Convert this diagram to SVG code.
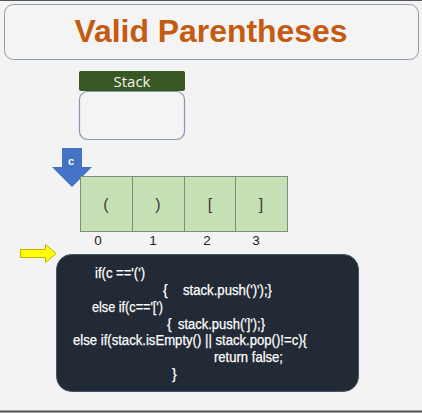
<svg xmlns="http://www.w3.org/2000/svg" width="422" height="413" viewBox="0 0 422 413">
<style>
.code{font-family:"Liberation Sans",Arial,sans-serif;font-size:14px;fill:#ffffff;stroke:#ffffff;stroke-width:0.25;}
.cell{fill:#c5e0b4;stroke:#7f8c7f;stroke-width:1;}
.ch{font-family:"Liberation Sans",Arial,sans-serif;font-size:16px;fill:#3a3a3a;text-anchor:middle;}
.idx{font-family:"Liberation Sans",Arial,sans-serif;font-size:13.5px;fill:#222;text-anchor:middle;}
</style>
<rect x="0" y="0" width="422" height="413" fill="#f3f3f3"/>
<line x1="0" y1="0.5" x2="422" y2="0.5" stroke="#555" stroke-width="1"/>
<line x1="0" y1="411.5" x2="422" y2="411.5" stroke="#555" stroke-width="2"/>
<g id="title">
<rect x="4.5" y="4.5" width="414" height="55" rx="9" fill="#f4f4f4" stroke="#8d9bb0" stroke-width="1"/>
<text x="211" y="42" text-anchor="middle" font-family="Liberation Sans,Arial,sans-serif" font-weight="bold" font-size="32" fill="#c55a11" textLength="273" lengthAdjust="spacingAndGlyphs">Valid Parentheses</text>
</g>
<g id="stack">
<rect x="79.5" y="91.5" width="105" height="48" rx="8" fill="#f4f4f4" stroke="#8497b0" stroke-width="1.2"/>
<rect x="79" y="71" width="106" height="20" rx="2" fill="#385723"/>
<text x="132" y="87" text-anchor="middle" font-family="Open Sans,Liberation Sans,sans-serif" font-size="15" fill="#f2f2f2">Stack</text>
</g>
<g id="pointer-c">
<polygon points="62,148 82,148 82,167 92,167 72,187 52,167 62,167" fill="#4472c4"/>
<text x="71" y="165" text-anchor="middle" font-family="Liberation Sans,Arial,sans-serif" font-weight="bold" font-size="11" fill="#ffffff">c</text>
</g>
<g id="array">
<rect class="cell" x="80.5" y="176.5" width="52" height="55"/>
<rect class="cell" x="132.5" y="176.5" width="52" height="55"/>
<rect class="cell" x="184.5" y="176.5" width="51" height="55"/>
<rect class="cell" x="235.5" y="176.5" width="52" height="55"/>
<text class="ch" x="106" y="210">(</text>
<text class="ch" x="158" y="210">)</text>
<text class="ch" x="210" y="210">[</text>
<text class="ch" x="261" y="210">]</text>
<text class="idx" x="98" y="245">0</text>
<text class="idx" x="153" y="245">1</text>
<text class="idx" x="207" y="245">2</text>
<text class="idx" x="256" y="245">3</text>
</g>
<g id="pointer-line">
<polygon points="20.5,249.5 45.5,249.5 45.5,244.5 56,253.5 45.5,262.5 45.5,257.5 20.5,257.5" fill="#ffff00" stroke="#c8b400" stroke-width="1"/>
</g>
<g id="code">
<rect x="56.5" y="254.5" width="302" height="137" rx="15" fill="#222a35" stroke="#44546a" stroke-width="1"/>
<text class="code" x="95" y="278" textLength="50" lengthAdjust="spacingAndGlyphs">if(c =='(')</text>
<text class="code" x="163" y="295">{</text>
<text class="code" x="183" y="295" textLength="89" lengthAdjust="spacingAndGlyphs">stack.push(')');}</text>
<text class="code" x="92" y="312" textLength="71" lengthAdjust="spacingAndGlyphs">else if(c=='[')</text>
<text class="code" x="167" y="329">{</text>
<text class="code" x="178" y="329" textLength="87" lengthAdjust="spacingAndGlyphs">stack.push(']');}</text>
<text class="code" x="73" y="345" textLength="234" lengthAdjust="spacingAndGlyphs">else if(stack.isEmpty() || stack.pop()!=c){</text>
<text class="code" x="214" y="362" textLength="69" lengthAdjust="spacingAndGlyphs">return false;</text>
<text class="code" x="172" y="379">}</text>
</g>
</svg>
